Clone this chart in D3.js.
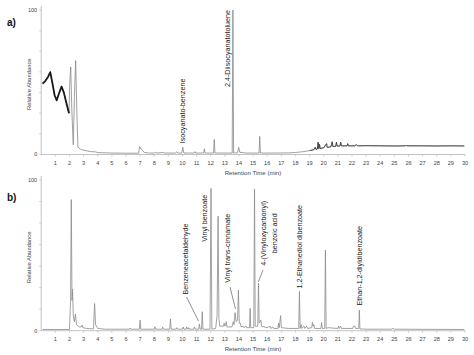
<!DOCTYPE html>
<html><head><meta charset="utf-8">
<script src="https://cdn.jsdelivr.net/npm/d3@7"></script>
<style>body{margin:0;background:#fff}svg{display:block}text{font-family:"Liberation Sans",Arial,sans-serif}</style>
</head><body><svg id="c" width="474" height="355"></svg>
<script>
// ---------- DATA ----------
const xTicks = d3.range(1, 31);
const yTickLabels = [0, 100];
const xLabel = "Retention Time (min)";
const yLabel = "Relative Abundance";
const panelNames = ["a)", "b)"];

// Panel a trace (retention time, relative abundance)
const timesA = [0.1,0.3,0.5,0.64,0.8,0.95,1.1,1.25,1.44,1.6,1.8,1.97,
  2.03,2.09,2.17,2.27,2.35,2.44,2.52,2.6,2.8,3.0,3.5,3.85,4.0,5.0,6.0,6.9,6.97,7.1,7.3,7.6,
  8.0,8.1,8.2,8.6,8.7,9.5,9.6,9.7,9.95,10.02,10.1,10.85,10.9,10.95,11.5,11.55,11.6,
  12.2,12.25,12.3,13.52,13.57,13.62,13.9,13.98,14.06,14.5,15.42,15.47,15.52,16.5,17.5,
  18.0,18.5,19.0,19.3,19.4,19.45,19.55,19.6,19.65,19.7,19.75,20.0,20.2,20.25,20.5,20.6,20.65,
  20.85,20.9,20.95,21.15,21.2,21.25,21.65,21.7,21.75,22.2,22.3,22.4,23,24,25,25.8,25.85,25.9,27,28,29,29.95];
const abundA = [49,51,54,57,49,41,37.5,42,47,43,35,28.5,
  52,60.6,30,6.7,40,65,30,5,3.5,3,2,1.8,1.3,1.0,0.9,0.9,5.5,3.5,1.5,1.0,
  1.0,1.5,1.0,1.4,1.0,1.0,1.8,1.0,1.0,5.0,1.0,1.0,2.0,1.0,1.0,4.0,1.0,
  1.0,10.5,1.0,1.0,100,1.0,1.2,5.0,1.5,1.0,1.0,12.5,1.0,1.0,1.1,
  1.4,1.9,2.7,3.3,5.0,3.5,3.8,8.5,4.0,7.0,4.2,4.6,7.5,4.9,5.3,8.8,5.5,
  5.7,8.5,5.8,5.9,8.5,6.0,6.0,7.5,6.0,6.0,6.8,6.0,6.1,6.0,5.9,6.0,6.5,6.0,6.0,5.9,6.0,5.9];

// Panel b trace
const timesB = [0.1,2.0,2.08,2.13,2.18,2.22,2.27,2.35,2.42,2.5,2.7,2.85,2.9,2.95,3.2,3.7,3.78,3.85,4.0,4.5,
  6.25,6.3,6.35,6.95,7.0,7.05,8.0,8.05,8.1,8.55,8.6,8.65,9.1,9.15,9.2,9.55,9.6,9.65,10.0,10.05,10.1,
  10.25,10.3,10.35,10.4,10.45,10.5,10.8,10.85,10.9,11.15,11.2,11.25,11.35,11.4,11.45,11.95,12.02,12.08,
  12.35,12.45,12.52,12.58,12.65,12.9,12.95,13.0,13.05,13.1,13.15,13.5,13.6,13.65,13.72,13.8,13.9,13.96,14.02,
  14.1,14.15,14.3,14.35,14.5,14.55,14.75,14.79,14.83,15.05,15.1,15.15,15.33,15.38,15.43,15.55,15.6,
  16.0,16.2,16.25,16.4,16.45,16.75,16.8,16.85,16.95,17.0,17.5,18.23,18.28,18.33,18.4,18.45,18.6,18.65,
  18.8,18.85,19.15,19.2,19.25,19.3,19.35,19.8,19.85,19.9,20.07,20.12,20.17,20.3,21.0,21.05,21.1,21.2,21.25,
  22.05,22.1,22.2,22.25,22.48,22.52,22.56,23,24.8,24.9,25,29.95];
const abundB = [0.8,0.8,20,87,20,27.5,10,6,11,4,2.5,2.5,3.8,2,1.5,1.2,18,4,1.5,1.0,
  1.0,1.8,1.0,1.0,7,1.0,1.0,2.7,1.0,1.0,2.5,1.0,1.0,7.8,1.0,1.0,2,1.0,1.0,2.5,1.0,
  1.0,2.5,1,1,2,1,1,2.5,1,1,4.5,1,1,12.6,1,1,94.5,1,
  1.5,10,76,8,3,3,5,3,3.5,6,2.5,2.5,6,4,12,6,7,27,5,
  5,2.5,3,2,3,2,2,14.8,2,2,94,3,3,31.5,5,7,3,
  2,3,1.5,2.5,1.5,1.5,5,2,10,2,1.5,1.5,26,1.5,4,1.5,3,1.5,
  3,1.5,2,5.5,3,4,1.5,1.5,5.5,1.5,1.5,53.5,1.5,2,1.5,3,1.5,3,1.5,
  1.5,3,3,1.5,1.5,13.7,1.2,1,1,1.5,1,0.8];

// Compound annotations
const labelsA = ["Isocyanato-benzene", "2,4-Diisocyanatotoluene"];
const labelsB = ["Benzeneacetaldehyde", "Vinyl benzoate", "Vinyl trans-cinnamate",
  ["4-(Vinyloxycarbonyl)", "benzoic acid"], "1,2-Ethanediol dibenzoate", "Ethan-1,2-diyldibenzoate"];

// ---------- LAYOUT ----------
const svg = d3.select("#c");
const x = d3.scaleLinear().domain([0, 30]).range([41.2, 465]);
const panels = [
  {y: d3.scaleLinear().domain([0, 100]).range([154.5, 10]), t: timesA, v: abundA, name: panelNames[0], nameY: 26, xlabY: 175},
  {y: d3.scaleLinear().domain([0, 100]).range([330.7, 180]), t: timesB, v: abundB, name: panelNames[1], nameY: 201, xlabY: 351}
];
const axisCol = "#b4b4b4", textCol = "#444";

panels.forEach((p, i) => {
  const g = svg.append("g");
  const y = p.y;
  g.append("line").attr("x1", x(0)).attr("x2", x(0)).attr("y1", y(100) - 4).attr("y2", y(0))
    .attr("stroke", axisCol).attr("stroke-width", 0.8);
  d3.range(0, 8).forEach(k => {
    const yy = y(0) + (y(100) - y(0)) * k / 7;
    g.append("line").attr("x1", x(0) - 2).attr("x2", x(0)).attr("y1", yy).attr("y2", yy)
      .attr("stroke", axisCol).attr("stroke-width", 0.6);
  });
  yTickLabels.forEach(v => {
    g.append("text").attr("x", x(0) - 4).attr("y", y(v)).attr("dy", "0.35em")
      .attr("text-anchor", "end").attr("font-size", 5.5).attr("fill", textCol).text(v);
  });
  g.append("line").attr("x1", x(0)).attr("x2", x(30)).attr("y1", y(0)).attr("y2", y(0))
    .attr("stroke", axisCol).attr("stroke-width", 0.8);
  xTicks.forEach(t => {
    g.append("line").attr("x1", x(t)).attr("x2", x(t)).attr("y1", y(0)).attr("y2", y(0) + 2)
      .attr("stroke", axisCol).attr("stroke-width", 0.6);
    g.append("text").attr("x", x(t)).attr("y", y(0) + 10).attr("text-anchor", "middle")
      .attr("font-size", 5.6).attr("fill", textCol).text(t);
  });
  g.append("text").attr("x", 253).attr("y", p.xlabY).attr("text-anchor", "middle")
    .attr("font-size", 6.1).attr("fill", textCol).text(xLabel);
  g.append("text").attr("transform", `translate(29,${(y(0) + y(100)) / 2 + 2}) rotate(-90)`)
    .attr("text-anchor", "middle").attr("dy", "0.35em").attr("font-size", 5.8).attr("fill", textCol).text(yLabel);
  g.append("text").attr("x", 7).attr("y", p.nameY).attr("font-size", 10).attr("font-weight", "bold")
    .attr("fill", "#111").text(p.name);

  const pts = p.t.map((t, k) => [t, p.v[k]]);
  const line = d3.line().x(d => x(d[0])).y(d => y(d[1]));
  g.append("path").attr("d", line(pts)).attr("fill", "none")
    .attr("stroke", i === 0 ? "#888" : "#8a8a8a").attr("stroke-width", 0.8).attr("stroke-linejoin", "round");
  if (i === 0) {
    g.append("path").attr("d", line(pts.filter(d => d[0] <= 1.97))).attr("fill", "none")
      .attr("stroke", "#1a1a1a").attr("stroke-width", 1.8).attr("stroke-linejoin", "round");
    g.append("path").attr("d", line(pts.filter(d => d[0] >= 19))).attr("fill", "none")
      .attr("stroke", "#3a3a3a").attr("stroke-width", 0.8);
  }
});

// annotations: rotated text centred on (cx, cy)
function vlabel(cx, cy, s, fs) {
  svg.append("text").attr("transform", `translate(${cx + fs * 0.35},${cy}) rotate(-90)`)
    .attr("text-anchor", "middle").attr("font-size", fs).attr("fill", "#222").text(s);
}
const annA = [[182.7, 111], [227.7, 48.5]];
labelsA.forEach((l, k) => vlabel(annA[k][0], annA[k][1], l, 7.2));

const annB = [[185, 259], [204, 218.3], [227.7, 248.3], [[263.3, 233.3], [274, 233.3]], [299.7, 246.7], [359, 265.8]];
labelsB.forEach((l, k) => {
  if (Array.isArray(l)) l.forEach((s, j) => vlabel(annB[k][j][0], annB[k][j][1], s, 7.2));
  else vlabel(annB[k][0], annB[k][1], l, 7.2);
});

const leaders = [[186.5, 297, 198.5, 321], [230, 287, 235.5, 309], [263, 270, 258.3, 282]];
leaders.forEach(l => svg.append("line").attr("x1", l[0]).attr("y1", l[1]).attr("x2", l[2]).attr("y2", l[3])
  .attr("stroke", "#444").attr("stroke-width", 0.6));
</script></body></html>
